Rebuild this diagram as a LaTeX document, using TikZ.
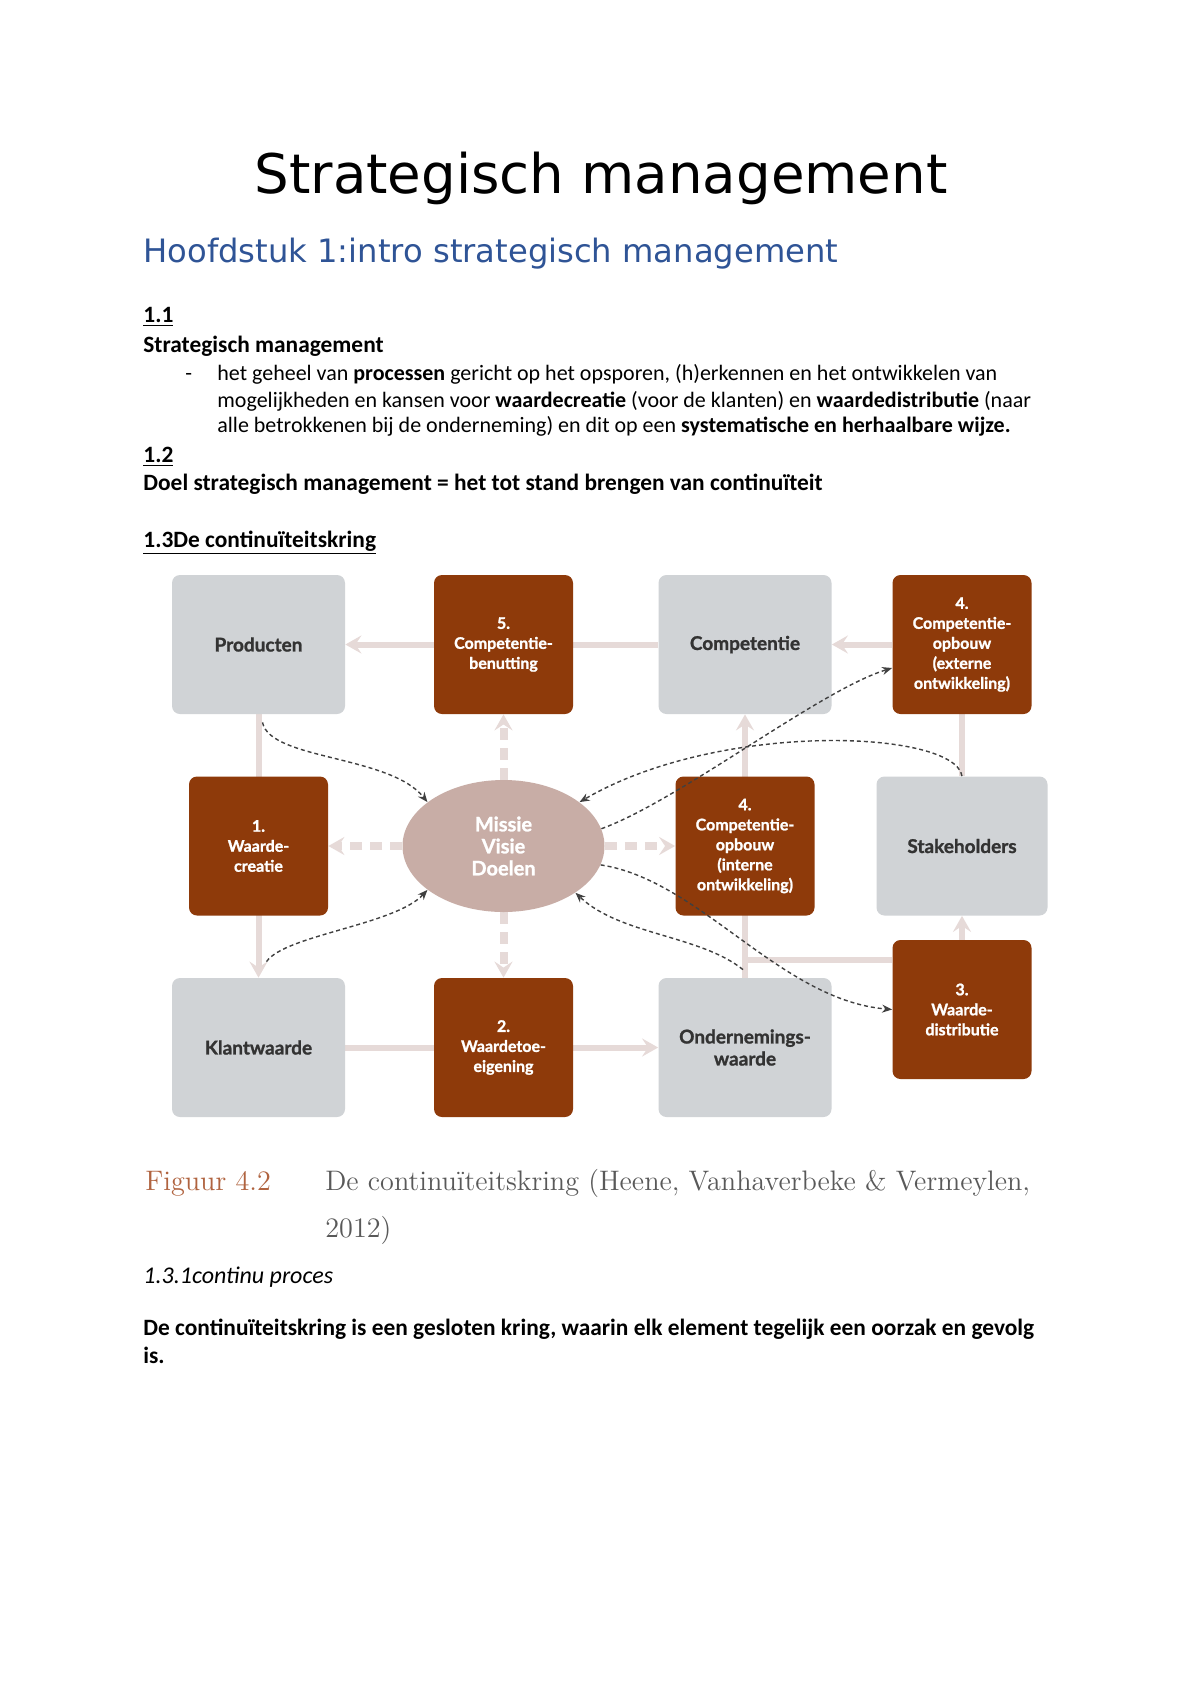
\documentclass[tikz,border=0pt]{standalone}
\usepackage{fontspec}
\newfontfamily\bodyfont{Carlito}
\newfontfamily\titlefont{DejaVu Sans}
\newfontfamily\diagfont{Lato}[BoldFeatures={FakeBold=1.2}]
\usetikzlibrary{positioning,arrows.meta,shapes.geometric,backgrounds}

\definecolor{brick}{HTML}{8E3A0A}
\definecolor{slate}{HTML}{D0D3D6}
\definecolor{blush}{HTML}{C8ADA6}
\definecolor{flow}{HTML}{E6DAD8}
\definecolor{headblue}{HTML}{2F5496}
\definecolor{capbrown}{HTML}{B0633F}
\definecolor{capgrey}{HTML}{595959}

\begin{document}
\begin{tikzpicture}[x=0.5pt,y=-0.5pt,>=Stealth,node distance=100.75pt,on grid,
  greybox/.style={fill=slate,rounded corners=4pt,minimum width=86.5pt,minimum height=69.5pt,
    align=center,text=black!80,font=\diagfont\bfseries\fontsize{9.5}{11}\selectfont},
  brownbox/.style={fill=brick,rounded corners=4pt,minimum width=69.5pt,minimum height=69.5pt,
    align=center,text=white,font=\diagfont\bfseries\fontsize{8}{10}\selectfont},
  goalbox/.style={ellipse,fill=blush,minimum width=101pt,minimum height=66pt,inner sep=0pt,
    align=center,text=white,font=\diagfont\bfseries\fontsize{10}{11}\selectfont},
  flowline/.style={draw=flow,line width=3pt},
  flowarrow/.style={flowline,-{Stealth[length=8pt,width=9pt,inset=3pt]}},
  flowdash/.style={flowarrow,line width=4pt,dash pattern=on 6pt off 4pt},
  dotarrow/.style={draw=black!75,line width=0.7pt,dash pattern=on 2pt off 1.5pt,
    -{Stealth[length=5pt,width=4pt]}},
  bodytext/.style={anchor=base west,inner sep=0pt,font=\bodyfont\bfseries\fontsize{11.7}{14}\selectfont},
  listtext/.style={anchor=base west,inner sep=0pt,font=\bodyfont\fontsize{11}{13}\selectfont},
  captext/.style={anchor=base west,inner sep=0pt,text=capgrey,font=\fontsize{14.1}{17}\selectfont}]

\useasboundingbox (0,0) rectangle (1200,1698);

% header text
\node[anchor=base,inner sep=0pt,font=\titlefont\fontsize{27.3}{32}\selectfont] (title) at (601,193) {Strategisch management};
\node[anchor=base west,inner sep=0pt,text=headblue,font=\titlefont\fontsize{16.1}{19}\selectfont] (head) at (143,262) {Hoofdstuk 1:intro strategisch management};
\node[bodytext] (sec11) at (143,322) {\underline{1.1}};
\node[bodytext] (sec11t) at (143,352) {Strategisch management};
\node[listtext] (bullet) at (185,380) {-};
\node[listtext] (def1) at (217,380) {het geheel van \textbf{processen} gericht op het opsporen, (h)erkennen en het ontwikkelen van};
\node[listtext] (def2) at (217,407) {mogelijkheden en kansen voor \textbf{waardecreatie} (voor de klanten) en \textbf{waardedistributie} (naar};
\node[listtext] (def3) at (217,432) {alle betrokkenen bij de onderneming) en dit op een \textbf{systematische en herhaalbare wijze.}};
\node[bodytext] (sec12) at (143,462) {\underline{1.2}};
\node[bodytext] (doel) at (143,490) {Doel strategisch management = het tot stand brengen van continuïteit};
\node[bodytext] (sec13) at (143,547) {\underline{1.3De continuïteitskring}};

% the circle of continuity
\node[greybox] (prod) at (258.5,644.5) {Producten};
\node[brownbox] (benut) [right=122.5pt of prod] {5.\\Competentie-\\benutting};
\node[greybox] (comp) [right=120.75pt of benut] {Competentie};
\node[brownbox] (extern) [right=108.5pt of comp] {4.\\Competentie-\\opbouw\\(externe\\ontwikkeling)};
\node[brownbox] (creatie) [below=of prod] {1.\\Waarde-\\creatie};
\node[goalbox] (mvd) [below=of benut] {Missie\\Visie\\Doelen};
\node[brownbox] (intern) [below=of comp] {4.\\Competentie-\\opbouw\\(interne\\ontwikkeling)};
\node[greybox,minimum width=85.5pt] (stake) [below=of extern] {Stakeholders};
\node[greybox] (klant) [below=of creatie] {Klantwaarde};
\node[brownbox] (toe) [below=of mvd] {2.\\Waardetoe-\\eigening};
\node[greybox] (onder) [below=of intern] {Ondernemings-\\waarde};
\node[brownbox] (distr) [below=81.75pt of stake] {3.\\Waarde-\\distributie};

\begin{scope}[on background layer]
  \fill[white] (0,0) rectangle (1200,1698);
  \draw[flowarrow] (benut.west) -- (prod.east);
  \draw[flowline] (comp.west) -- (benut.east);
  \draw[flowarrow] (extern.west) -- (comp.east);
  \draw[flowline] (stake.north) -- (extern.south);
  \draw[flowarrow] (distr.north) -- (stake.south);
  \draw[flowline] ([yshift=24.75pt]distr.west) -- ([yshift=24.75pt]distr.west -| onder.north);
  \draw[flowarrow] (onder.north) -- (comp.south);
  \draw[flowarrow] (prod.south) -- (klant.north);
  \draw[flowline] (klant.east) -- (toe.west);
  \draw[flowarrow] (toe.east) -- (onder.west);
  \draw[flowdash] (mvd.north) -- (benut.south);
  \draw[flowdash] (mvd.west) -- (creatie.east);
  \draw[flowdash] (mvd.east) -- (intern.west);
  \draw[flowdash] (mvd.south) -- (toe.north);
\end{scope}

% feedback loops
\draw[dotarrow] ([xshift=2pt,yshift=-4pt]prod.south) .. controls (270,760) and (390,755) .. (mvd.150);
\draw[dotarrow] ([xshift=4pt,yshift=8pt]klant.north) .. controls (285,935) and (395,925) .. (mvd.210);
\draw[dotarrow] (stake.north) .. controls (955,730) and (720,720) .. (mvd.30);
\draw[dotarrow] (mvd.10) .. controls (680,800) and (820,690) .. ([yshift=-11.75pt]extern.west);
\draw[dotarrow] (mvd.349) .. controls (700,880) and (780,1000) .. (distr.west);
\draw[dotarrow] ([xshift=-1pt,yshift=4pt]onder.north) .. controls (700,935) and (620,935) .. (mvd.327);

% caption and closing text
\node[captext,text=capbrown] (fig) at (145,1190) {Figuur 4.2};
\node[captext] (capt) at (325,1190) {De continuïteitskring (Heene, Vanhaverbeke \& Vermeylen,};
\node[captext] (capyr) at (325,1237) {2012)};
\node[anchor=base west,inner sep=0pt,font=\bodyfont\itshape\fontsize{12}{14}\selectfont] (sec131) at (143,1283) {1.3.1continu proces};
\node[bodytext] (kring1) at (143,1335) {De continuïteitskring is een gesloten kring, waarin elk element tegelijk een oorzak en gevolg};
\node[bodytext] (kring2) at (143,1363) {is.};
\end{tikzpicture}
\end{document}
